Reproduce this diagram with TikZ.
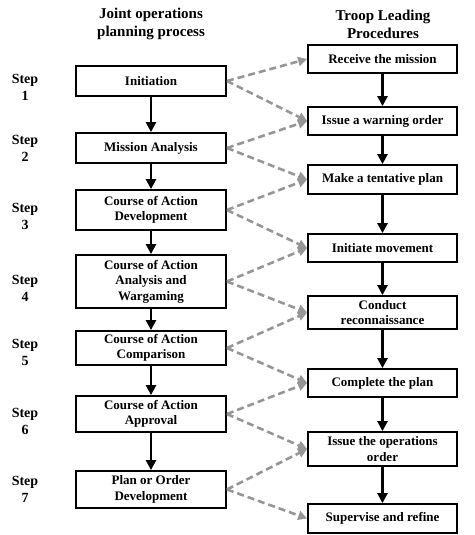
\documentclass[tikz,border=0pt]{standalone}
\usepackage{fontspec}
\setmainfont{Liberation Serif}
\usetikzlibrary{arrows.meta}
\definecolor{dashgray}{RGB}{150,150,150}

\begin{document}
\begin{tikzpicture}[x=1pt,y=-1pt,
  box/.style={draw, line width=1.8pt, align=center, inner sep=0pt,
    font=\fontsize{13}{15.5}\selectfont\bfseries},
  jbox/.style={box, minimum width=150pt},
  tbox/.style={box, minimum width=149pt},
  flow/.style={line width=2.8pt, -{Triangle[width=10pt,length=10pt]}},
  link/.style={dashgray, line width=2.6pt, dash pattern=on 7pt off 4pt,
    -{Triangle[width=9pt,length=9pt]}},
  steplbl/.style={align=center, font=\fontsize{14}{17}\selectfont\bfseries},
  head/.style={align=center, font=\fontsize{15}{18}\selectfont\bfseries}]
  \useasboundingbox (0,0) rectangle (474,535);

  % column headings
  \node [head] (hj) at (151,24) {Joint operations\\planning process};
  \node [head] (ht) at (383,24) {Troop Leading\\Procedures};

  % steps
  \node [steplbl] (s1) at (25,87) {Step\\1};
  \node [steplbl] (s2) at (25,148) {Step\\2};
  \node [steplbl] (s3) at (25,216) {Step\\3};
  \node [steplbl] (s4) at (25,288) {Step\\4};
  \node [steplbl] (s5) at (25,352) {Step\\5};
  \node [steplbl] (s6) at (25,421) {Step\\6};
  \node [steplbl] (s7) at (25,489) {Step\\7};

  % joint operations planning process
  \node [jbox, minimum height=30pt] (j1) at (151,81) {Initiation};
  \node [jbox, minimum height=30pt] (j2) at (151,148) {Mission Analysis};
  \node [jbox, minimum height=40pt] (j3) at (151,210) {Course of Action\\Development};
  \node [jbox, minimum height=53pt] (j4) at (151,281.5) {Course of Action\\Analysis and\\Wargaming};
  \node [jbox, minimum height=34pt] (j5) at (151,348) {Course of Action\\Comparison};
  \node [jbox, minimum height=36pt] (j6) at (151,414) {Course of Action\\Approval};
  \node [jbox, minimum height=37pt] (j7) at (151,489.5) {Plan or Order\\Development};

  % troop leading procedures
  \node [tbox, minimum height=28pt] (t1) at (382.5,59) {Receive the mission};
  \node [tbox, minimum height=28pt] (t2) at (382.5,121) {Issue a warning order};
  \node [tbox, minimum height=29pt] (t3) at (382.5,179.5) {Make a tentative plan};
  \node [tbox, minimum height=28pt] (t4) at (382.5,248) {Initiate movement};
  \node [tbox, minimum height=33pt] (t5) at (382.5,312.5) {Conduct\\reconnaissance};
  \node [tbox, minimum height=28pt] (t6) at (382.5,383) {Complete the plan};
  \node [tbox, minimum height=34pt] (t7) at (382.5,449) {Issue the operations\\order};
  \node [tbox, minimum height=29pt] (t8) at (382.5,518.5) {Supervise and refine};

  \draw [flow] (j1) -- (j2);
  \draw [flow] (j2) -- (j3);
  \draw [flow] (j3) -- (j4);
  \draw [flow] (j4) -- (j5);
  \draw [flow] (j5) -- (j6);
  \draw [flow] (j6) -- (j7);

  \draw [flow] (t1) -- (t2);
  \draw [flow] (t2) -- (t3);
  \draw [flow] (t3) -- (t4);
  \draw [flow] (t4) -- (t5);
  \draw [flow] (t5) -- (t6);
  \draw [flow] (t6) -- (t7);
  \draw [flow] (t7) -- (t8);

  % links between the two processes
  \foreach \i [evaluate=\i as \n using int(\i+1)] in {1,...,7} {
    \draw [link] (j\i.east) -- (t\i.west);
    \draw [link] (j\i.east) -- (t\n.west);
  }
\end{tikzpicture}
\end{document}
